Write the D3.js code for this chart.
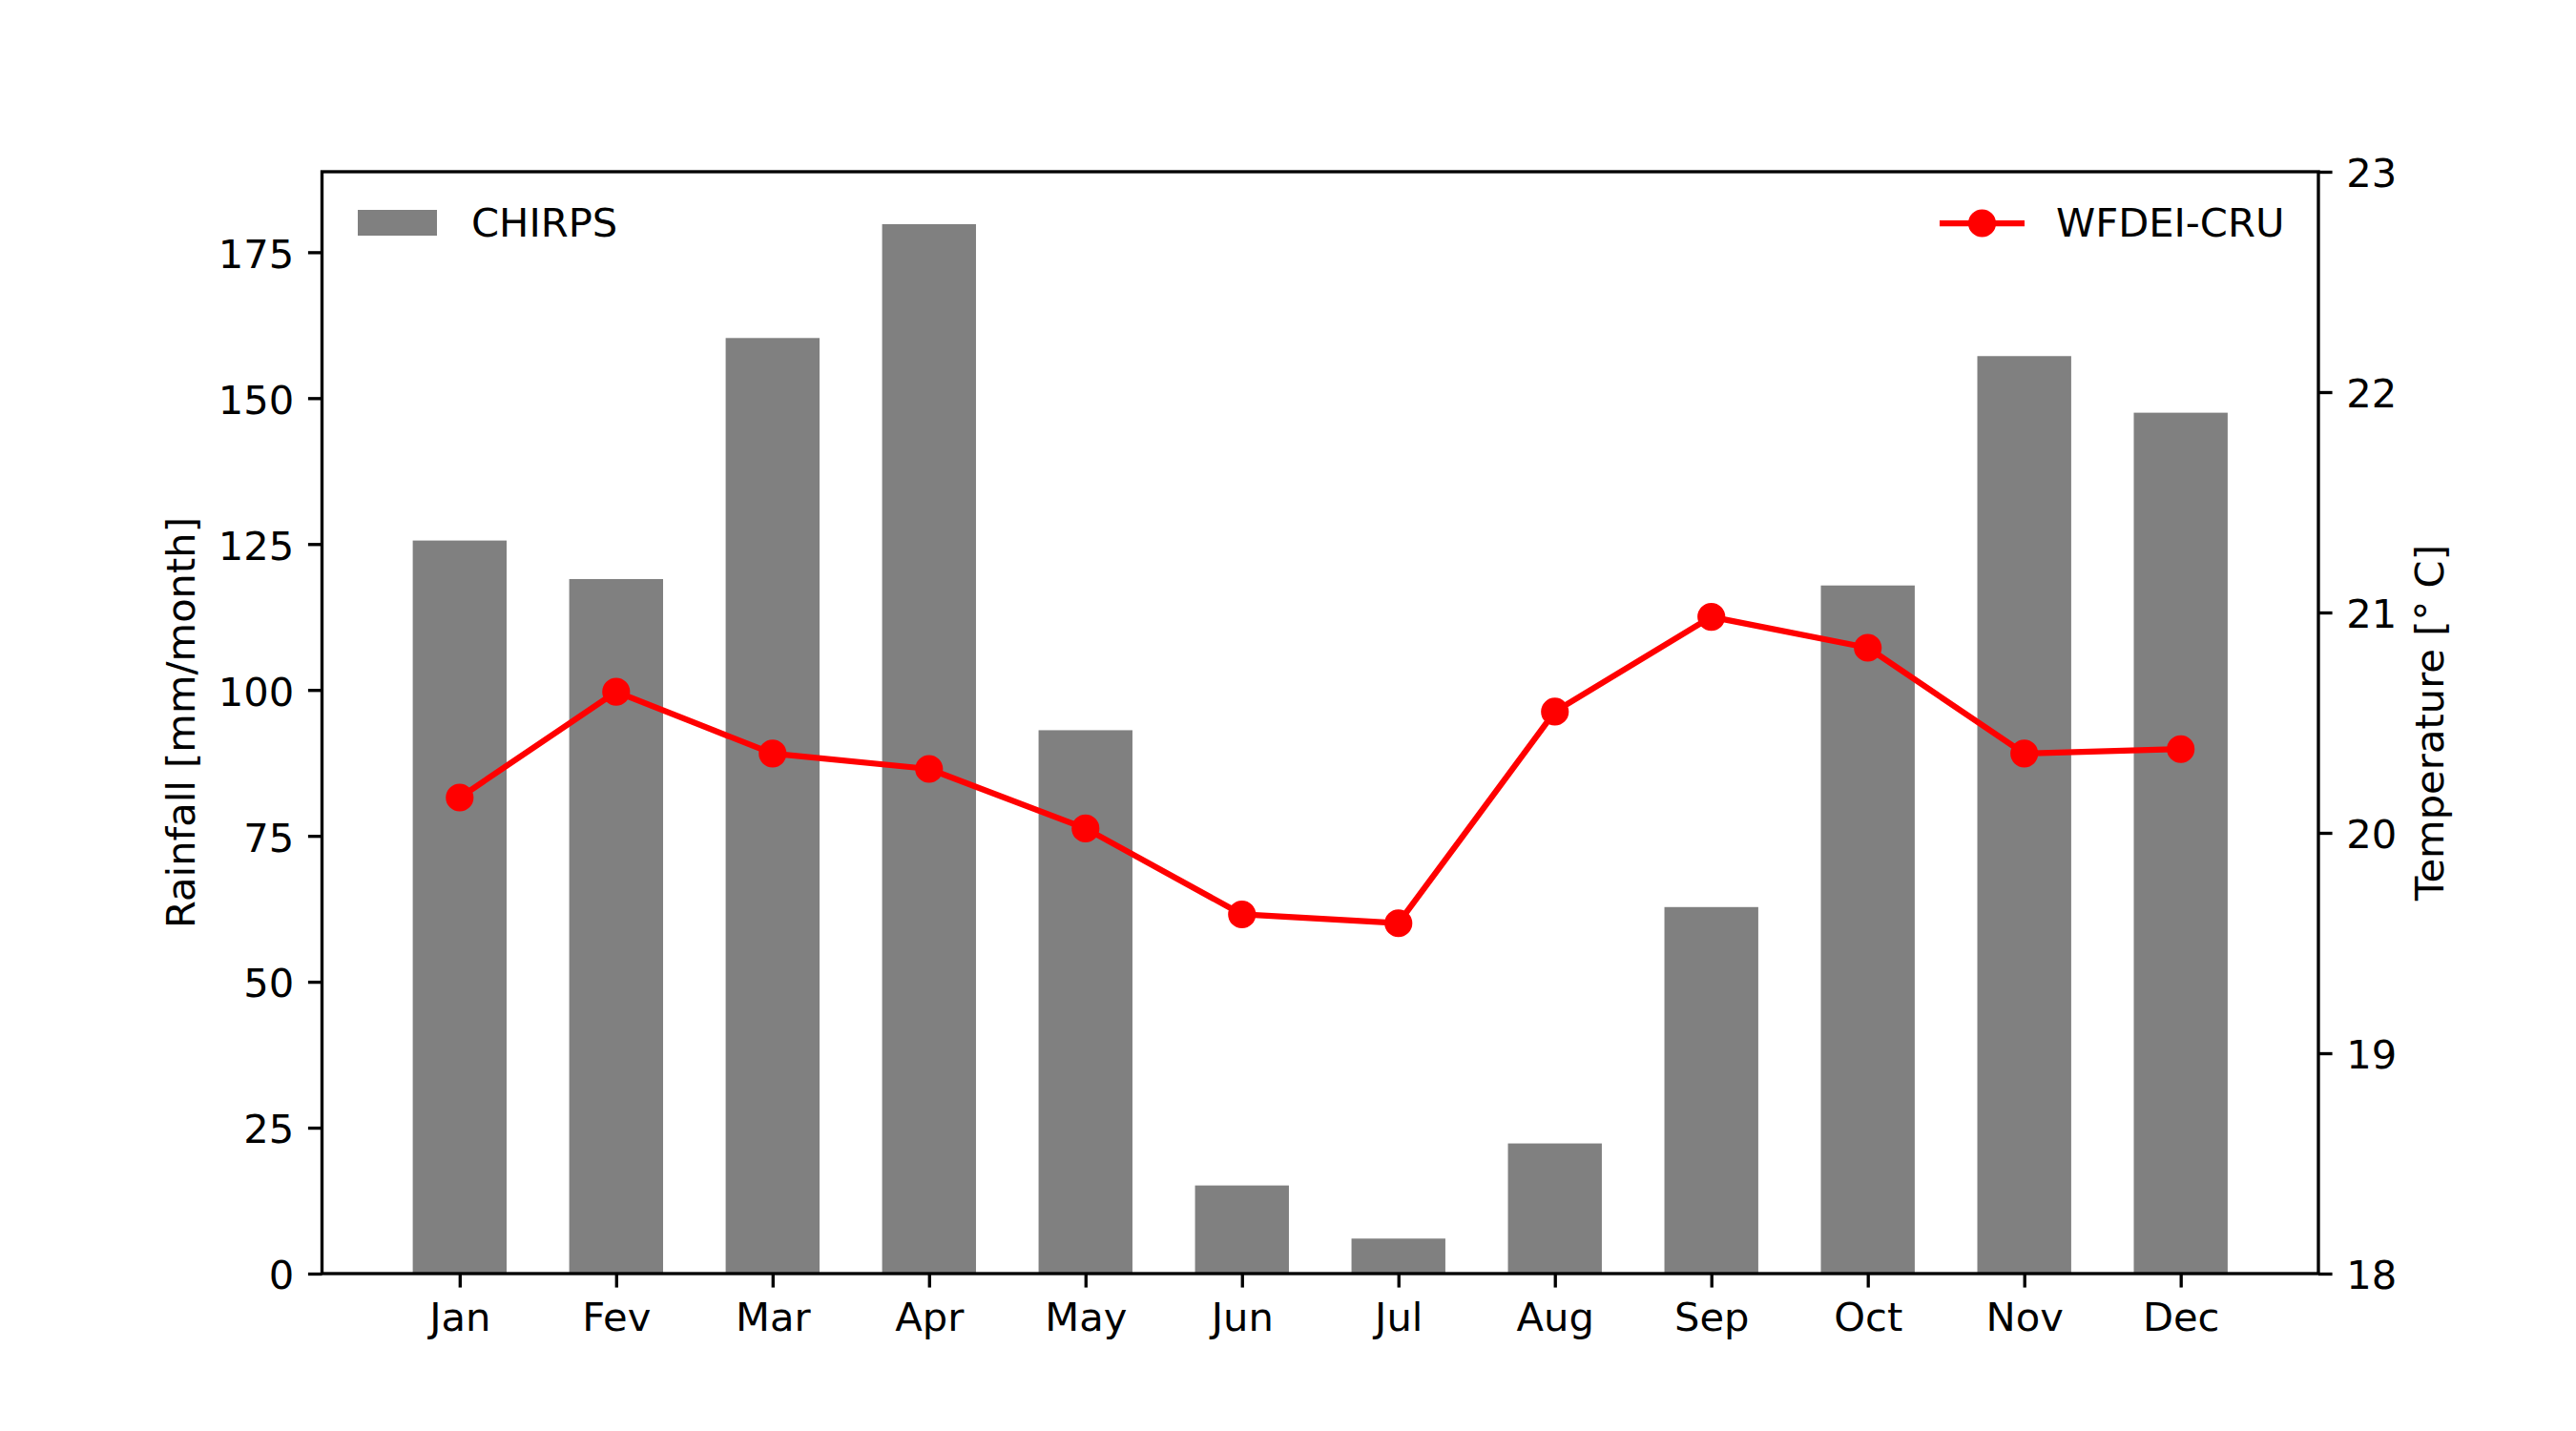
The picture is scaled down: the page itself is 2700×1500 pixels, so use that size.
<!DOCTYPE html>
<html>
<head>
<meta charset="utf-8">
<script src="https://cdn.jsdelivr.net/npm/d3@7"></script>
<style>
	body{margin:0;background:#fff;}
	text{font-family:"DejaVu Sans",sans-serif;fill:#000;}
</style>
</head>
<body>
<div id="idChart"></div>
<script>
// monthly climatology: CHIRPS rainfall (bars) and WFDEI-CRU temperature (line)
var aMonths=["Jan","Fev","Mar","Apr","May","Jun","Jul","Aug","Sep","Oct","Nov","Dec"];
var aRainfall=[125.6,119.0,160.3,179.8,93.1,15.1,6.0,22.3,62.8,117.9,157.2,147.5];
var aTemperature=[20.16,20.64,20.36,20.29,20.02,19.63,19.59,20.55,20.98,20.84,20.36,20.38];
var aRainTicks=[0,25,50,75,100,125,150,175];
var aTempTicks=[18,19,20,21,22,23];
var sRainLabel="Rainfall [mm/month]";
var sTempLabel="Temperature [° C]";
var aLegend=["CHIRPS","WFDEI-CRU"];

var iWidth=2700;
var iHeight=1500;
var iLeft=337.5, iRight=2430, iTop=180, iBottom=1335;
var fPt=300/72;            // figure drawn at 300 dpi
var iFont=10*fPt;
var iTick=3.5*fPt;
var iSpine=0.8*fPt;
var fBarWidth=0.6;

var mySvg=d3.select("#idChart").append("svg")
	.attr("width",iWidth)
	.attr("height",iHeight);

mySvg.append("rect").attr("width",iWidth).attr("height",iHeight).attr("fill","#fff");

// x in bar index units with 5% margins like matplotlib
var fLo=-fBarWidth/2, fHi=aMonths.length-1+fBarWidth/2;
var fPad=(fHi-fLo)*0.05;
var xScale=d3.scaleLinear().domain([fLo-fPad,fHi+fPad]).range([iLeft,iRight]);
var yRain=d3.scaleLinear().domain([0,d3.max(aRainfall)*1.05]).range([iBottom,iTop]);
var yTemp=d3.scaleLinear().domain([18,23]).range([iBottom,iTop]);

// bars
mySvg.append("g").selectAll("rect")
	.data(aRainfall)
	.enter().append("rect")
		.attr("x",function(d,i){return xScale(i-fBarWidth/2);})
		.attr("width",function(d,i){return xScale(i+fBarWidth/2)-xScale(i-fBarWidth/2);})
		.attr("y",function(d){return yRain(d);})
		.attr("height",function(d){return yRain(0)-yRain(d);})
		.attr("fill","#808080");

// legend for bars
var gLegL=mySvg.append("g");
gLegL.append("rect").attr("x",375).attr("y",220).attr("width",83).attr("height",27).attr("fill","#808080");
gLegL.append("text").attr("x",494).attr("y",247.6).style("font-size",iFont+"px").text(aLegend[0]);

// axes
function fStyleAxis(g,sDy)
{
	g.select(".domain").remove();
	g.selectAll(".tick line").attr("stroke","#000").attr("stroke-width",iSpine);
	g.selectAll(".tick text").style("font-size",iFont+"px").attr("fill","#000");
	if(sDy) g.selectAll(".tick text").attr("dy",sDy);
}

var gX=mySvg.append("g").attr("transform","translate(0,"+iBottom+")")
	.call(d3.axisBottom(xScale).tickValues(d3.range(aMonths.length))
		.tickFormat(function(i){return aMonths[i];})
		.tickSize(iTick).tickPadding(iTick));
fStyleAxis(gX,"0.74em");

var gYL=mySvg.append("g").attr("transform","translate("+iLeft+",0)")
	.call(d3.axisLeft(yRain).tickValues(aRainTicks).tickFormat(d3.format("d")).tickSize(iTick).tickPadding(iTick));
fStyleAxis(gYL,"0.38em");

var gYR=mySvg.append("g").attr("transform","translate("+iRight+",0)")
	.call(d3.axisRight(yTemp).tickValues(aTempTicks).tickFormat(d3.format("d")).tickSize(iTick).tickPadding(iTick));
fStyleAxis(gYR,"0.38em");

mySvg.append("text")
	.attr("transform","translate(204,"+((iTop+iBottom)/2)+") rotate(-90)")
	.attr("text-anchor","middle")
	.style("font-size",iFont+"px")
	.text(sRainLabel);

mySvg.append("text")
	.attr("transform","translate(2561,"+((iTop+iBottom)/2)+") rotate(-90)")
	.attr("text-anchor","middle")
	.style("font-size",iFont+"px")
	.text(sTempLabel);

// spines
mySvg.append("rect")
	.attr("x",iLeft).attr("y",iTop)
	.attr("width",iRight-iLeft).attr("height",iBottom-iTop)
	.attr("fill","none").attr("stroke","#000").attr("stroke-width",iSpine);

// temperature line on twin axis
var myLine=d3.line()
	.x(function(d,i){return xScale(i);})
	.y(function(d){return yTemp(d);});

mySvg.append("path")
	.datum(aTemperature)
	.attr("d",myLine)
	.attr("fill","none")
	.attr("stroke","#ff0000")
	.attr("stroke-width",1.5*fPt)
	.attr("stroke-linejoin","round");

mySvg.append("g").selectAll("circle")
	.data(aTemperature)
	.enter().append("circle")
		.attr("cx",function(d,i){return xScale(i);})
		.attr("cy",function(d){return yTemp(d);})
		.attr("r",3*fPt)
		.attr("fill","#ff0000")
		.attr("stroke","#ff0000")
		.attr("stroke-width",fPt);

// legend for line
var gLegR=mySvg.append("g");
gLegR.append("line").attr("x1",2033).attr("x2",2122).attr("y1",234).attr("y2",234)
	.attr("stroke","#ff0000").attr("stroke-width",1.5*fPt);
gLegR.append("circle").attr("cx",2077.5).attr("cy",234).attr("r",3*fPt).attr("fill","#ff0000")
	.attr("stroke","#ff0000").attr("stroke-width",fPt);
gLegR.append("text").attr("x",2155).attr("y",247.6).style("font-size",iFont+"px").text(aLegend[1]);
</script>
</body>
</html>
